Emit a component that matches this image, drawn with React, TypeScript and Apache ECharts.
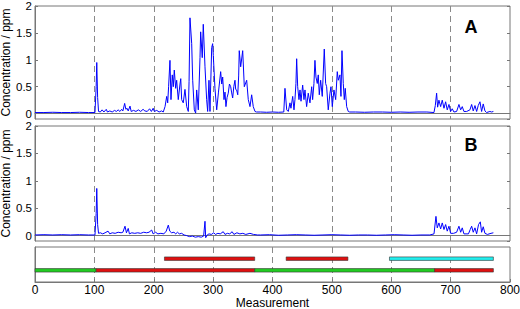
import React, { useEffect, useRef } from "react";
import * as echarts from "echarts";

// Panel A: measured concentration trace [measurement, ppm]
const traceA: [number, number][] = [
  [0, 0.02], [15, 0.02], [30, 0.025], [45, 0.02], [60, 0.02], [75, 0.025], [90, 0.02], [101, 0.02],
  [103, 0.5], [104, 0.95], [105.5, 0.3], [107, 0.04], [110, 0.03], [113, 0.07], [116, 0.03], [120, 0.08],
  [122, 0.03], [126, 0.05], [130, 0.03], [134, 0.06], [137, 0.04], [140, 0.07], [143, 0.04], [146, 0.08],
  [148, 0.05], [151, 0.19], [153, 0.08], [155, 0.1], [157, 0.05], [160, 0.14], [162, 0.04], [166, 0.06],
  [170, 0.04], [174, 0.07], [178, 0.04], [182, 0.08], [185, 0.05], [189, 0.04], [193, 0.09], [196, 0.04],
  [199, 0.1], [201, 0.04], [205, 0.06], [209, 0.03], [213, 0.05], [216, 0.03],
  [219, 0.13], [221.8, 0.32], [223.5, 0.2], [225, 0.5], [227.3, 0.99], [229, 0.26], [231.2, 0.72],
  [232.9, 0.5], [234.6, 0.81], [236.9, 0.47], [238.6, 0.62], [241.3, 0.26], [244.2, 0.55], [245.5, 0.65],
  [247, 0.26], [249.7, 0.2], [252.6, 0.45], [255.5, 0.13], [258.2, 0.04], [259.5, 0.6], [261, 1.78],
  [263.9, 1.3], [265.6, 0.62], [268.3, 0.07], [270.6, 0.01], [272.3, 0.44], [275, 0.07], [277.9, 1.04],
  [279, 1.52], [281.7, 1.04], [283.4, 1.66], [286.3, 0.87], [289.1, 0.26], [290.8, 0.04], [293, 0.62],
  [294.7, 0.04], [297.6, 1.23], [299.2, 1.3], [300.3, 1.08], [303.1, 0.47], [306, 0.07], [309, 0.4],
  [312.7, 0.78], [314.5, 0.55], [316.1, 0.68], [318.3, 0.26], [320, 0.4], [321.6, 0.13], [323.5, 0.3],
  [325.5, 0.38], [327.5, 0.55], [329.6, 0.5], [331, 0.4], [332.9, 0.29], [334.8, 0.5], [336.8, 0.62],
  [338, 0.45], [339.6, 0.44], [341.5, 0.35], [343, 0.7], [344, 1.17], [346.4, 0.87], [349.8, 1.17],
  [352.5, 0.5], [356.5, 0.62], [359.2, 0.26], [362.1, 0.13], [364.9, 0.35], [367.6, 0.13], [370.5, 0.04],
  [373, 0.03], [380, 0.03], [390, 0.025], [400, 0.03], [410, 0.025], [419, 0.03],
  [421, 0.47], [423.9, 0.07], [426.6, 0.04], [429.4, 0.2], [431.1, 0.1], [434, 0.32], [436.2, 0.07],
  [437.8, 0.26], [439.5, 0.56], [440.7, 1.02], [442.4, 0.5], [444.6, 0.26], [446.3, 0.44], [448, 0.23],
  [450.8, 0.53], [453, 0.26], [454.7, 0.44], [457.5, 0.13], [460.2, 0.38], [463.1, 0.2], [466, 0.5],
  [467.6, 0.26], [469.8, 0.56], [471.5, 0.99], [473.2, 0.68], [475.4, 0.56], [477.1, 0.72], [478.8, 0.35],
  [481.1, 0.62], [483.8, 0.32], [487.2, 1.2], [489.5, 0.56], [491.2, 0.5], [493.9, 0.07], [496.8, 0.38],
  [498.5, 0.5], [500.7, 0.13], [503.5, 0.44], [506.4, 0.26], [509.1, 0.78], [510.8, 0.62], [513.6, 0.72],
  [515.3, 0.32], [517, 1.17], [519.2, 0.56], [520.9, 0.26], [522.5, 0.47], [524.9, 0.13], [527.6, 0.04],
  [530, 0.03], [540, 0.03], [555, 0.025], [570, 0.03], [585, 0.03], [600, 0.025], [615, 0.03], [630, 0.025],
  [645, 0.03], [660, 0.03], [671.9, 0.02],
  [674.2, 0.15], [676.4, 0.38], [678.1, 0.12], [680.3, 0.25], [683.2, 0.13], [685.9, 0.25], [688.8, 0.1],
  [691.6, 0.22], [694.3, 0.07], [697.2, 0.17], [700, 0.04], [702.7, 0.09], [705.6, 0.03], [710.1, 0.04],
  [714, 0.17], [716.9, 0.07], [719.6, 0.13], [722.4, 0.04], [727, 0.04], [732.5, 0.07], [735.4, 0.17],
  [738.1, 0.05], [741, 0.15], [743.8, 0.04], [746.5, 0.15], [749.4, 0.22], [752.2, 0.04], [754.9, 0.18],
  [757.8, 0.05], [760.6, 0.02], [766.2, 0.04], [769, 0.03], [772, 0.04],
];

// Panel B: concentration trace [measurement, ppm]
const traceB: [number, number][] = [
  [0, 0.01], [15, 0.015], [30, 0.01], [45, 0.015], [60, 0.01], [75, 0.015], [90, 0.01], [101, 0.01],
  [103, 0.4], [104, 0.86], [105.5, 0.2], [107, 0.04], [110, 0.05], [114, 0.03], [118, 0.05], [123, 0.08],
  [126, 0.03], [130, 0.05], [135, 0.04], [140, 0.06], [145, 0.05], [148, 0.06], [151.6, 0.17], [154, 0.05],
  [157, 0.13], [159, 0.03], [163, 0.05], [168, 0.04], [173, 0.05], [178, 0.04], [183, 0.06], [188, 0.05],
  [192, 0.06], [196.5, 0.1], [199, 0.03], [203, 0.06], [207, 0.03], [212, 0.04], [217, 0.03], [221, 0.08],
  [224.5, 0.19], [227, 0.08], [230, 0.05], [234, 0.06], [237, 0.03], [240, 0.06], [243, 0.03], [247, 0.04],
  [251, 0.01], [255, 0.0], [260, -0.02], [265, -0.01], [270, -0.03], [275, -0.02], [280, -0.03], [284, -0.01],
  [286.3, 0.26], [287.5, -0.04], [290, 0.01], [293, 0.03], [297, 0.02], [301, 0.05], [304, 0.02], [308, 0.04],
  [312, 0.03], [317, 0.07], [320, 0.02], [324, 0.04], [328, 0.03], [332, 0.07], [335, 0.02], [340, 0.05],
  [345, 0.03], [350, 0.04], [355, 0.02], [362, 0.04], [368, 0.02], [375, 0.01],
  [380, 0.01], [395, 0.015], [410, 0.005], [425, 0.01], [440, 0.015], [455, 0.01], [470, 0.005], [485, 0.01],
  [500, 0.015], [515, 0.01], [530, 0.005], [545, 0.01], [560, 0.01], [575, 0.005], [590, 0.01], [605, 0.015],
  [620, 0.01], [635, 0.005], [650, 0.01], [665, 0.01], [672, 0.03],
  [675.3, 0.35], [677.5, 0.14], [680.3, 0.23], [683.2, 0.12], [685.9, 0.23], [688.8, 0.11], [691.6, 0.2],
  [694.3, 0.08], [697.2, 0.17], [700, 0.04], [705, 0.04], [710.1, 0.06], [714, 0.17], [716.9, 0.06],
  [719.6, 0.14], [722.4, 0.03], [730, 0.03], [733, 0.11], [735.4, 0.17], [738.1, 0.06], [741, 0.14],
  [743.8, 0.03], [747, 0.2], [750, 0.25], [752.2, 0.06], [754.9, 0.16], [757.8, 0.04], [762, 0.02],
  [768, 0.04], [772, 0.05],
];

// Panel C: class segments [start, end, row, colourIndex]
const segmentColors = ["#e01010", "#22cc22", "#22eeee"];
const segments: [number, number, number, number][] = [
  [218, 370, 2, 0], [423, 527, 2, 0], [597, 772, 2, 2],
  [0, 103, 1, 1], [103, 370, 1, 0], [370, 673, 1, 1], [673, 772, 1, 0],
];

const yTicksMax = 2;
const yMin = -0.1;
const xMax = 800;
const xStep = 100;

const FONT = "'Liberation Sans', Arial, sans-serif";
const AX = "#777777";

export default function App() {
  const ref = useRef<HTMLDivElement>(null);
  useEffect(() => {
    if (!ref.current) return;
    const chart = echarts.init(ref.current, null, { renderer: "svg" });
    const grids = [
      { left: 35, top: 6, width: 475, height: 113 },
      { left: 35, top: 126, width: 475, height: 115 },
      { left: 35, top: 247, width: 475, height: 35 },
    ].map((g) => ({
      ...g,
      show: true,
      borderColor: AX,
      borderWidth: 1,
      backgroundColor: "#fff",
      containLabel: false,
      outerBoundsMode: "none",
    }));

    const xAxes = [0, 1, 2].map((i) => ({
      type: "value",
      gridIndex: i,
      min: 0,
      max: xMax,
      interval: xStep,
      axisLine: { show: true, lineStyle: { color: AX } },
      axisTick: { show: i === 2, inside: true, length: 3, lineStyle: { color: AX } },
      axisLabel: {
        show: i === 2,
        color: "#000",
        fontFamily: FONT,
        fontSize: 12,
        lineHeight: 12,
        margin: 2,
      },
      splitLine: {
        show: true,
        showMinLine: false,
        showMaxLine: false,
        lineStyle: { color: "#8a8a8a", type: [6, 4], width: 1 },
      },
      name: i === 2 ? "Measurement" : "",
      nameLocation: "middle",
      nameGap: 15,
      nameMoveOverlap: false,
      nameTextStyle: { color: "#000", fontFamily: FONT, fontSize: 12, lineHeight: 12 },
    }));

    const concAxis = (i: number) => ({
      type: "value",
      gridIndex: i,
      min: yMin,
      max: yTicksMax,
      splitNumber: 4,
      axisLine: { show: true, lineStyle: { color: AX } },
      axisTick: { show: true, inside: true, length: 3, lineStyle: { color: AX } },
      axisLabel: {
        color: "#000",
        fontFamily: FONT,
        fontSize: 11.5,
        lineHeight: 11,
        margin: 3,
        showMinLabel: false,
        formatter: (v: number) => (v < 0 ? "" : String(v)),
      },
      splitLine: { show: false },
      name: "Concentration / ppm",
      nameLocation: "middle",
      nameGap: 23,
      nameMoveOverlap: false,
      nameTextStyle: { color: "#000", fontFamily: FONT, fontSize: 12, lineHeight: 12 },
    });
    const rightAxis = (i: number) => ({
      type: "value",
      gridIndex: i,
      position: "right",
      min: yMin,
      max: yTicksMax,
      splitNumber: 4,
      axisLine: { show: false },
      axisTick: { show: true, inside: true, length: 3, lineStyle: { color: AX } },
      axisLabel: { show: false },
      splitLine: { show: false },
    });

    const yAxes = [
      concAxis(0),
      concAxis(1),
      {
        type: "value",
        gridIndex: 2,
        min: 0,
        max: 3,
        axisLine: { show: true, lineStyle: { color: AX } },
        axisTick: { show: false },
        axisLabel: { show: false },
        splitLine: { show: false },
      },
      rightAxis(0),
      rightAxis(1),
    ];

    chart.setOption({
      animation: false,
      grid: grids,
      xAxis: xAxes,
      yAxis: yAxes,
      series: [
        {
          type: "line",
          xAxisIndex: 0,
          yAxisIndex: 0,
          data: traceA,
          showSymbol: false,
          symbol: "none",
          lineStyle: { color: "#0000ff", width: 1 },
          clip: true,
        },
        {
          type: "line",
          xAxisIndex: 1,
          yAxisIndex: 1,
          data: traceB,
          showSymbol: false,
          symbol: "none",
          lineStyle: { color: "#0000ff", width: 1 },
          clip: true,
        },
        {
          type: "custom",
          xAxisIndex: 2,
          yAxisIndex: 2,
          data: segments,
          renderItem: (params: any, api: any) => {
            const s = api.coord([api.value(0), api.value(2)]);
            const e = api.coord([api.value(1), api.value(2)]);
            const h = 3.5;
            return {
              type: "rect",
              shape: { x: s[0], y: s[1] - h / 2, width: e[0] - s[0], height: h },
              style: { fill: segmentColors[api.value(3)], stroke: "#333", lineWidth: 0.6 },
            };
          },
        },
      ],
      graphic: [
        {
          type: "text",
          x: 471,
          y: 27,
          style: {
            text: "A",
            fontFamily: FONT,
            fontWeight: "bold",
            fontSize: 18,
            fill: "#000",
            align: "center",
            verticalAlign: "middle",
          },
        },
        {
          type: "text",
          x: 471,
          y: 145,
          style: {
            text: "B",
            fontFamily: FONT,
            fontWeight: "bold",
            fontSize: 18,
            fill: "#000",
            align: "center",
            verticalAlign: "middle",
          },
        },
      ],
    });
    return () => chart.dispose();
  }, []);
  return (
    <div
      ref={ref}
      style={{ position: "fixed", left: 0, top: 0, width: 520, height: 309, background: "#fff" }}
    />
  );
}
